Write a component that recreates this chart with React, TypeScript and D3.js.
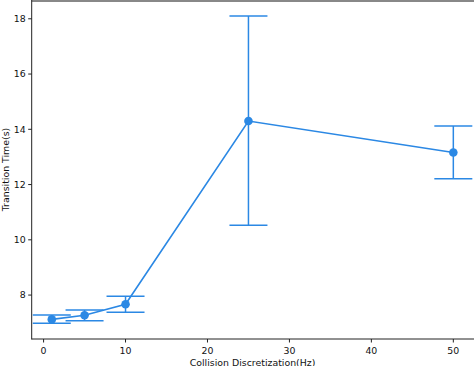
import React from 'react';
import * as d3 from 'd3';

const freqs = [1, 5, 10, 25, 50];
const means = [7.12, 7.27, 7.67, 14.3, 13.16];
const lowers = [6.98, 7.07, 7.38, 10.53, 12.21];
const uppers = [7.28, 7.46, 7.96, 18.1, 14.12];
const xTicks = [0, 10, 20, 30, 40, 50];
const yTicks = [8, 10, 12, 14, 16, 18];

const width = 474;
const height = 366;
const left = 31.7;
const right = 473.4;
const top = 0;
const bottom = 339;
const color = '#2b88e4';
const font = 'DejaVu Sans, sans-serif';
const fs = 9.4;

const App = () => {
    const x = d3.scaleLinear().domain([-1.45, 52.45]).range([left, right]);
    const y = d3.scaleLinear().domain([6.41, 18.68]).range([bottom, top]);
    const line = d3.line<number>()
        .x((d, i) => x(freqs[i]))
        .y(d => y(d));
    const cap = 19;

    return (
        <svg width={width} height={height} style={{ position: 'absolute', left: 0, top: 0, background: '#fff' }}>
            <rect width={width} height={height} fill="#fff" />
            {freqs.map((f, i) => (
                <g key={f} stroke={color} strokeWidth={1.5}>
                    <line x1={x(f)} x2={x(f)} y1={y(lowers[i])} y2={y(uppers[i])} />
                    <line x1={x(f) - cap} x2={x(f) + cap} y1={y(lowers[i])} y2={y(lowers[i])} />
                    <line x1={x(f) - cap} x2={x(f) + cap} y1={y(uppers[i])} y2={y(uppers[i])} />
                </g>
            ))}
            <path d={line(means) || ''} fill="none" stroke={color} strokeWidth={1.6} />
            {freqs.map((f, i) => (
                <circle key={f} cx={x(f)} cy={y(means[i])} r={4.3} fill={color} />
            ))}
            <line x1={left} x2={width} y1={1} y2={1} stroke="#888" strokeWidth={2} />
            <line x1={left} x2={left} y1={0} y2={bottom + 0.5} stroke="#222" strokeWidth={1} />
            <line x1={left} x2={width} y1={bottom} y2={bottom} stroke="#222" strokeWidth={1} />
            {xTicks.map(t => (
                <g key={t}>
                    <line x1={x(t)} x2={x(t)} y1={bottom} y2={bottom + 3.5} stroke="#222" />
                    <text x={x(t)} y={353.5} textAnchor="middle" fontFamily={font} fontSize={fs} fill="#111">{t}</text>
                </g>
            ))}
            {yTicks.map(t => (
                <g key={t}>
                    <line x1={left - 3.5} x2={left} y1={y(t)} y2={y(t)} stroke="#222" />
                    <text x={left - 6} y={y(t) + 3.4} textAnchor="end" fontFamily={font} fontSize={fs} fill="#111">{t}</text>
                </g>
            ))}
            <text x={(left + right) / 2} y={365.5} textAnchor="middle" fontFamily={font} fontSize={fs} fill="#111">Collision Discretization(Hz)</text>
            <text transform={`translate(8.5,${(top + bottom) / 2}) rotate(-90)`} textAnchor="middle" fontFamily={font} fontSize={fs} fill="#111">Transition Time(s)</text>
        </svg>
    );
};

export default App;
